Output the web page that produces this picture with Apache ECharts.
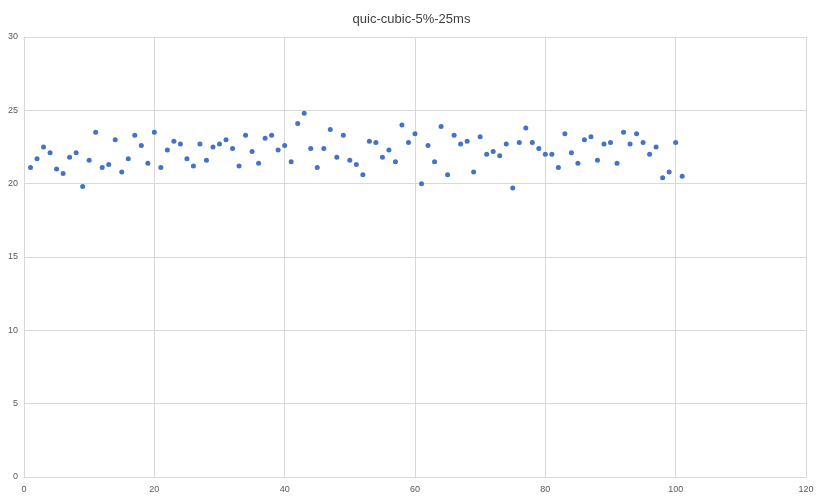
<!DOCTYPE html>
<html><head><meta charset="utf-8">
<script src="https://cdn.jsdelivr.net/npm/echarts@6/dist/echarts.min.js"></script>
<style>html,body{margin:0;padding:0;background:#fff}#c{width:823px;height:502px}</style>
</head><body><div id="c"></div>
<script>
const title = "quic-cubic-5%-25ms";
const yValues = [21.1,21.7,22.5,22.1,21.0,20.7,21.8,22.1,19.8,21.6,23.5,21.1,21.3,23.0,20.8,21.7,23.3,22.6,21.4,23.5,21.1,22.3,22.9,22.7,21.7,21.2,22.7,21.6,22.5,22.7,23.0,22.4,21.2,23.3,22.2,21.4,23.1,23.3,22.3,22.6,21.5,24.1,24.8,22.4,21.1,22.4,23.7,21.8,23.3,21.6,21.3,20.6,22.9,22.8,21.8,22.3,21.5,24.0,22.8,23.4,20.0,22.6,21.5,23.9,20.6,23.3,22.7,22.9,20.8,23.2,22.0,22.2,21.9,22.7,19.7,22.8,23.8,22.8,22.4,22.0,22.0,21.1,23.4,22.1,21.4,23.0,23.2,21.6,22.7,22.8,21.4,23.5,22.7,23.4,22.8,22.0,22.5,20.4,20.8,22.8,20.5];
const data = yValues.map((v,i)=>[i+1,v]);
const chart = echarts.init(document.getElementById('c'));
chart.setOption({
  animation:false,
  title:{text:title,left:'center',top:8,textStyle:{fontFamily:'Liberation Sans, Arial',fontSize:13,fontWeight:'normal',color:'#404040'}},
  grid:{left:24,right:17,top:37,bottom:25},
  xAxis:{type:'value',min:0,max:120,interval:20,
    axisLine:{show:true,lineStyle:{color:'#d9d9d9'}},axisTick:{show:false},
    axisLabel:{color:'#595959',fontSize:9,fontFamily:'Liberation Sans, Arial'},
    splitLine:{show:true,lineStyle:{color:'#d9d9d9'}}},
  yAxis:{type:'value',min:0,max:30,interval:5,
    axisLine:{show:true,lineStyle:{color:'#d9d9d9'}},axisTick:{show:false},
    axisLabel:{color:'#595959',fontSize:9,fontFamily:'Liberation Sans, Arial',margin:6},
    splitLine:{show:true,lineStyle:{color:'#d9d9d9'}}},
  series:[{type:'scatter',data:data,symbolSize:5,itemStyle:{color:'#4472c4',opacity:1}}]
});
</script></body></html>
